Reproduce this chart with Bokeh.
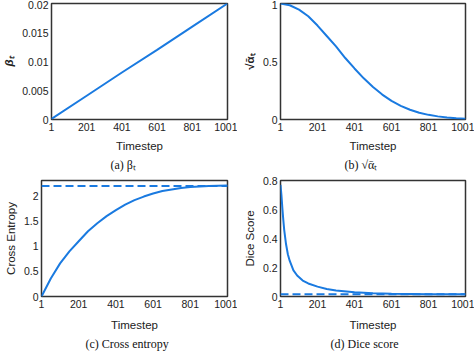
from bokeh.plotting import figure
from bokeh.models import Range1d, FixedTicker, CustomJSTickFormatter, Title
from bokeh.layouts import column, row
from bokeh.embed import file_html
from bokeh.resources import INLINE

# ---------------- data ----------------
timestep_ticks = [1, 201, 401, 601, 801, 1001]

beta_t = [1, 201, 401, 601, 801, 1001]
beta_vals = [0.0001, 0.0041, 0.0081, 0.0120, 0.0160, 0.0200]
beta_yticks = [0, 0.005, 0.01, 0.015, 0.02]

alpha_t = [1, 51, 101, 151, 201, 251, 301, 351, 401, 451, 501,
           551, 601, 651, 701, 751, 801, 851, 901, 951, 1001]
alpha_vals = [1.0, 0.985, 0.947, 0.89, 0.81, 0.72, 0.63, 0.53, 0.44, 0.355, 0.28,
              0.215, 0.16, 0.118, 0.084, 0.058, 0.04, 0.027, 0.017, 0.011, 0.0066]
alpha_yticks = [0, 0.5, 1]

ce_t = [1, 51, 101, 151, 201, 251, 301, 351, 401, 451, 501,
        551, 601, 651, 701, 751, 801, 851, 901, 951, 1001]
ce_vals = [0.0, 0.36, 0.66, 0.90, 1.10, 1.30, 1.46, 1.60, 1.72, 1.83, 1.92,
           1.99, 2.05, 2.10, 2.13, 2.16, 2.18, 2.19, 2.20, 2.205, 2.21]
ce_ref = 2.2
ce_yticks = [0, 0.5, 1, 1.5, 2]

dice_t = [1, 6, 11, 16, 21, 31, 41, 51, 71, 91, 121, 151, 201, 251, 301,
          401, 501, 601, 801, 1001]
dice_vals = [0.77, 0.70, 0.61, 0.53, 0.46, 0.36, 0.29, 0.245, 0.18, 0.145, 0.11,
             0.09, 0.068, 0.052, 0.042, 0.03, 0.023, 0.019, 0.016, 0.015]
dice_ref = 0.016
dice_yticks = [0, 0.2, 0.4, 0.6, 0.8]

# ---------------- style ----------------
BLUE = "#1a7ae0"
SANS = "Liberation Sans"
SERIF = "Liberation Serif"
fmt = "return String(tick);"


def make_panel(w, h, bl, br, bt, bb, yr, yticks, ylabel, ylabel_style,
               caption, cap_offset, label_standoff, cap_standoff):
    p = figure(width=w, height=h, x_range=Range1d(1, 1001), y_range=Range1d(*yr),
               output_backend="svg", toolbar_location=None,
               min_border_left=bl, min_border_right=br,
               min_border_top=bt, min_border_bottom=bb)
    p.grid.visible = False
    p.outline_line_color = "#333333"
    p.outline_line_width = 1.5
    p.outline_line_alpha = 1.0
    p.background_fill_color = "white"
    p.border_fill_color = "white"

    p.xaxis.ticker = FixedTicker(ticks=timestep_ticks)
    p.yaxis.ticker = FixedTicker(ticks=yticks)
    for ax in (p.xaxis, p.yaxis):
        ax.formatter = CustomJSTickFormatter(code=fmt)
        ax.axis_line_color = None
        ax.major_tick_line_color = None
        ax.minor_tick_line_color = None
        ax.major_tick_out = 0
        ax.major_tick_in = 0
        ax.minor_tick_out = 0
        ax.major_label_text_font = SANS
        ax.major_label_text_font_size = "10.5px"
        ax.major_label_text_color = "#222222"
        ax.major_label_standoff = 3
        ax.axis_label_text_font = SANS
        ax.axis_label_text_font_size = "11.5px"
        ax.axis_label_text_color = "#222222"
        ax.axis_label_standoff = 4
    p.xaxis.axis_label = "Timestep"
    p.xaxis.axis_label_standoff = label_standoff
    p.xaxis.axis_label_text_font_style = "normal"
    p.yaxis.axis_label = ylabel
    p.yaxis.axis_label_text_font_style = ylabel_style

    p.add_layout(Title(text=caption, align="left", offset=cap_offset,
                       text_font=SERIF, text_font_size="12px",
                       text_font_style="normal", text_color="#111111",
                       standoff=cap_standoff), "below")
    return p


pa = make_panel(237, 176, 51, 10, 3, 57, (0, 0.02), beta_yticks,
                "βₜ", "bold italic", "(a) βₜ", 59, 6, 3)
pa.line(beta_t, beta_vals, line_color=BLUE, line_width=2)

pb = make_panel(237, 176, 43, 9, 3, 57, (0, 1), alpha_yticks,
                "√ᾱₜ", "bold", "(b) √ᾱₜ", 64, 6, 3)
pb.line(alpha_t, alpha_vals, line_color=BLUE, line_width=2)

pc = make_panel(237, 180, 41, 10, 4, 60, (0, 2.31), ce_yticks,
                "Cross Entropy", "normal", "(c) Cross entropy", 44, 8, 3)
pc.line([timestep_ticks[0], timestep_ticks[-1]], [ce_ref, ce_ref],
        line_color=BLUE, line_width=2, line_dash="8 4")
pc.line(ce_t, ce_vals, line_color=BLUE, line_width=2)

pd_ = make_panel(237, 180, 43, 9, 4, 60, (0, 0.8), dice_yticks,
                 "Dice Score", "normal", "(d) Dice score", 50, 8, 3)
pd_.line([timestep_ticks[0], timestep_ticks[-1]], [dice_ref, dice_ref],
         line_color=BLUE, line_width=2, line_dash="8 4")
pd_.line(dice_t, dice_vals, line_color=BLUE, line_width=2)

layout = column(row(pa, pb), row(pc, pd_))

open("out.html", "w").write(file_html(layout, INLINE))
